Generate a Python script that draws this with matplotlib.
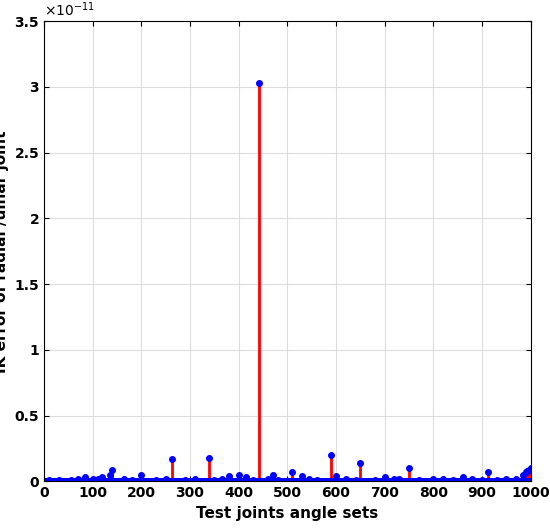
import numpy as np
import matplotlib.pyplot as plt
from matplotlib.ticker import FormatStrFormatter

# notable errors (x index, value in 1e-11); others ~0
spike_idx = [85, 120, 135, 140, 200, 262, 338, 380, 400, 415, 442, 470, 510, 530, 590, 600, 650, 700,
             750, 800, 860, 912, 950, 985, 990, 993, 996, 1000]
spike_val = [0.03, 0.03, 0.05, 0.09, 0.05, 0.17, 0.18, 0.04, 0.05, 0.03, 3.03, 0.05, 0.07, 0.04, 0.20, 0.04,
             0.14, 0.03, 0.10, 0.02, 0.03, 0.07, 0.02, 0.05, 0.07, 0.08, 0.09, 0.10]
small_idx = [10, 30, 55, 70, 100, 110, 165, 180, 230, 250, 290, 310, 350, 365, 430, 460, 480, 545, 560, 620,
             640, 680, 720, 730, 770, 820, 840, 880, 900, 930, 970]
small_val = [0.01, 0.01, 0.01, 0.02, 0.02, 0.02, 0.02, 0.01, 0.01, 0.02, 0.01, 0.02, 0.01, 0.02, 0.01, 0.02,
             0.01, 0.02, 0.01, 0.02, 0.01, 0.01, 0.02, 0.02, 0.01, 0.02, 0.01, 0.02, 0.01, 0.01, 0.02]

x = np.arange(1, 1001)
y = np.zeros(1000)  # in units of 1e-11
for i, v in zip(small_idx + spike_idx, small_val + spike_val):
    y[i - 1] = v

fig, ax = plt.subplots(figsize=(5.5, 5.29), dpi=100)
ml, sl, bl = ax.stem(x, y, linefmt='r-', markerfmt='bo', basefmt=' ')
plt.setp(sl, linewidth=2)
plt.setp(ml, markersize=4)
ax.set_xlim(0, 1000)
ax.set_ylim(0, 3.5)
ax.set_xticks(range(0, 1001, 100))
ax.set_yticks(np.arange(0, 3.6, 0.5))
ax.yaxis.set_major_formatter(FormatStrFormatter('%g'))
ax.grid(True, color='#dddddd')
ax.tick_params(direction='in', labelsize=10, top=True, right=True)
for t in ax.get_xticklabels() + ax.get_yticklabels():
    t.set_fontweight('bold')
ax.text(0.0, 1.005, r'$\times10^{-11}$', transform=ax.transAxes, fontsize=10, va='bottom')
ax.set_xlabel('Test joints angle sets', fontsize=11, fontweight='bold')
ax.set_ylabel('IK error of radial /ulnar joint', fontsize=11, fontweight='bold')
fig.subplots_adjust(left=0.08, right=0.965, top=0.96, bottom=0.09)
fig.savefig('out.png')
